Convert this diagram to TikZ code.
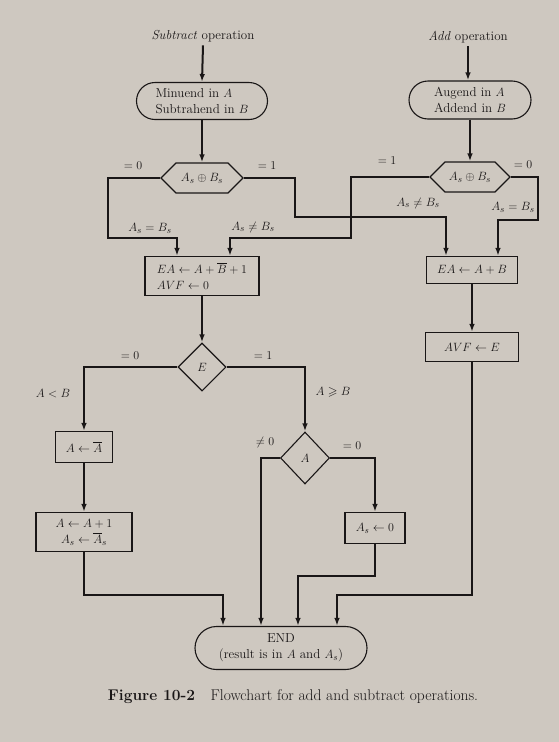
\documentclass[tikz,border=0pt]{standalone}
\usepackage{amsmath,amssymb}
\usetikzlibrary{arrows.meta,positioning,calc,shapes.geometric,shapes.misc,shapes.symbols}
\definecolor{paper}{RGB}{206,200,192}
\definecolor{ink}{RGB}{25,22,22}

\begin{document}
\begin{tikzpicture}[x=1pt,y=-1pt,ink,
    font=\fontsize{13}{16}\selectfont,
    term/.style={draw,rounded rectangle,line width=1.1pt,inner sep=0pt,align=left},
    hexa/.style={draw,signal,signal to=west and east,signal pointer angle=90,line width=1.1pt,inner sep=0pt},
    proc/.style={draw,rectangle,line width=1.1pt,inner sep=0pt,align=center},
    decide/.style={draw,diamond,line width=1.1pt,inner sep=0pt},
    conn/.style={line width=2pt,-{Latex[length=8pt,width=5.5pt]}},
    lbl/.style={font=\fontsize{12.5}{14}\selectfont}]
  \fill[paper] (0,0) rectangle (559,742);
  % subtract side
  \node (subtxt) at (203,36) {\textit{Subtract} operation};
  \node[term,minimum width=131pt,minimum height=37pt] (minu) at (202,101) {Minuend in $A$\\Subtrahend in $B$};
  \node[hexa,minimum width=82pt,minimum height=30pt] (hexL) at (202,178) {$A_s\oplus B_s$};
  \node[proc,minimum width=114pt,minimum height=39pt,align=left] (subbox) at (202,276)
    {$EA \leftarrow A+\overline{B}+1$\\$AVF \leftarrow 0$};
  \node[decide,minimum width=48pt,minimum height=48pt] (diamE) at (202,367) {$E$};
  \node[proc,minimum width=57pt,minimum height=31pt] (negbox) at (84,447) {$A \leftarrow \overline{A}$};
  \node[proc,minimum width=96pt,minimum height=39pt] (incbox) at (84,532)
    {$A \leftarrow A+1$\\$A_s \leftarrow \overline{A}_s$};
  \node[decide,minimum width=49pt,minimum height=52pt] (diamA) at (305,458) {$A$};
  \node[proc,minimum width=60pt,minimum height=31pt] (zerobox) at (375,528) {$A_s \leftarrow 0$};
  % add side
  \node (addtxt) at (468,37) {\textit{Add} operation};
  \node[term,minimum width=122pt,minimum height=38pt] (aug) at (470,100) {Augend in $A$\\Addend in $B$};
  \node[hexa,minimum width=80pt,minimum height=30pt] (hexR) at (470,177) {$A_s\oplus B_s$};
  \node[proc,minimum width=91pt,minimum height=27pt] (addbox) at (472,270) {$EA \leftarrow A+B$};
  \node[proc,minimum width=93pt,minimum height=29pt] (avfbox) at (472,347) {$AVF \leftarrow E$};
  % end
  \node[term,align=center,minimum width=172pt,minimum height=43pt] (endt) at (281,648)
    {END\\(result is in $A$ and $A_s$)};
  \node[font=\fontsize{15.5}{18}\selectfont] (cap) at (293,697)
    {\textbf{Figure 10-2}\quad Flowchart for add and subtract operations.};

  % connectors
  \draw[conn] (subtxt.south) -- (minu.north);
  \draw[conn] (minu.south) -- (hexL.north);
  \draw[conn] (addtxt.south) -- (aug.north -| addtxt.south);
  \draw[conn] (aug.south) -- (hexR.north);
  \draw[conn] (hexL.west) -| (108,238) -| ([xshift=-25pt]subbox.north);
  \draw[conn] (hexL.east) -| (295,217) -| ([xshift=-26pt]addbox.north);
  \draw[conn] (hexR.west) -| (351,238) -| ([xshift=28pt]subbox.north);
  \draw[conn] (hexR.east) -| (538,220) -| ([xshift=26pt]addbox.north);
  \draw[conn] (subbox.south) -- (diamE.north);
  \draw[conn] (addbox.south) -- (avfbox.north);
  \draw[conn] (diamE.west) -| (negbox.north);
  \draw[conn] (diamE.east) -| (diamA.north);
  \draw[conn] (negbox.south) -- (incbox.north);
  \draw[conn] (diamA.east) -| (zerobox.north);
  \draw[conn] (diamA.west) -| ([xshift=-20pt]endt.north);
  \draw[conn] (incbox.south) -- ++(0,43) -| ([xshift=-58pt]endt.north);
  \draw[conn] (zerobox.south) -- ++(0,32) -| ([xshift=17pt]endt.north);
  \draw[conn] (avfbox.south) -- ++(0,233) -| ([xshift=56pt]endt.north);

  % branch labels
  \node[lbl] (l1) at (133,166) {$=0$};
  \node[lbl] (l2) at (267,166) {$=1$};
  \node[lbl] (l3) at (387,161) {$=1$};
  \node[lbl] (l4) at (523,165) {$=0$};
  \node[lbl] (l5) at (150,228) {$A_s=B_s$};
  \node[lbl] (l6) at (253,227) {$A_s\neq B_s$};
  \node[lbl] (l7) at (418,203) {$A_s\neq B_s$};
  \node[lbl] (l8) at (513,207) {$A_s=B_s$};
  \node[lbl] (l9) at (130,356) {$=0$};
  \node[lbl] (l10) at (263,356) {$=1$};
  \node[lbl] (l11) at (53,394) {$A<B$};
  \node[lbl] (l12) at (333,392) {$A\geqslant B$};
  \node[lbl] (l13) at (265,442) {$\neq 0$};
  \node[lbl] (l14) at (352,446) {$=0$};
\end{tikzpicture}
\end{document}
